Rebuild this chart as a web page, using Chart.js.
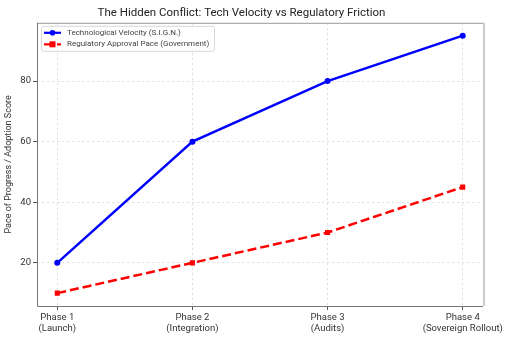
<!DOCTYPE html>
<html>
<head>
<meta charset="utf-8">
<script src="https://cdn.jsdelivr.net/npm/chart.js"></script>
<style>
	body { margin: 0; background: #fff; }
	canvas { display: block; }
</style>
</head>
<body>
<canvas id="chartc" width="512" height="341"></canvas>
<script>
// Data

var phases = [["Phase 1", "(Launch)"], ["Phase 2", "(Integration)"], ["Phase 3", "(Audits)"], ["Phase 4", "(Sovereign Rollout)"]];
var techValues = [20, 60, 80, 95];
var regValues = [10, 20, 30, 45];
var yTicks = [20, 40, 60, 80];

var fontFamily = "Roboto, 'DejaVu Sans', sans-serif";

// Legend inside the plot + frame, matplotlib style

var insideLegend = {
	id: 'insideLegend',
	afterDatasetsDraw: function(chart) {
		var ctx = chart.ctx;
		var a = chart.chartArea;
		var x = a.left + 4, y = a.top + 3, w = 173, h = 25;
		ctx.save();
		ctx.fillStyle = "rgba(255,255,255,0.85)";
		ctx.strokeStyle = "#d8d8d8";
		ctx.lineWidth = 1;
		ctx.beginPath();
		ctx.roundRect(x + 0.5, y + 0.5, w, h, 2);
		ctx.fill();
		ctx.stroke();
		chart.data.datasets.forEach(function(ds, i) {
			var cy = y + 7 + i * 11.5;
			ctx.strokeStyle = ds.borderColor;
			ctx.lineWidth = 2.2;
			ctx.setLineDash(ds.borderDash || []);
			ctx.beginPath();
			ctx.moveTo(x + 3, cy);
			ctx.lineTo(x + 20, cy);
			ctx.stroke();
			ctx.setLineDash([]);
			ctx.fillStyle = ds.borderColor;
			if (ds.pointStyle === 'rect') {
				ctx.fillRect(x + 11.5 - 3, cy - 3, 6, 6);
			} else {
				ctx.beginPath();
				ctx.arc(x + 11.5, cy, 2.8, 0, Math.PI * 2);
				ctx.fill();
			}
			ctx.fillStyle = "#444";
			ctx.font = "8px " + fontFamily;
			ctx.textBaseline = "middle";
			ctx.fillText(ds.label, x + 26, cy);
		});
		ctx.restore();
	},
	afterDraw: function(chart) {
		var ctx = chart.ctx;
		var a = chart.chartArea;
		ctx.save();
		ctx.lineWidth = 1;
		ctx.strokeStyle = "#999";
		ctx.beginPath();
		ctx.moveTo(a.left, a.top + 0.5);
		ctx.lineTo(a.right, a.top + 0.5);
		ctx.stroke();
		ctx.strokeStyle = "#777";
		ctx.beginPath();
		ctx.moveTo(a.left + 0.5, a.top);
		ctx.lineTo(a.left + 0.5, a.bottom + 0.5);
		ctx.lineTo(a.right, a.bottom + 0.5);
		ctx.stroke();
		ctx.strokeStyle = "#ccc";
		ctx.lineWidth = 2;
		ctx.beginPath();
		ctx.moveTo(a.right + 1, a.top);
		ctx.lineTo(a.right + 1, a.bottom);
		ctx.stroke();
		ctx.restore();
	}
};

new Chart("chartc", {
	type: "line",
	data: {
		datasets: [{
			label: "Technological Velocity (S.I.G.N.)",
			data: techValues.map(function(v, i) { return {x: i, y: v}; }),
			borderColor: "#0000ff",
			backgroundColor: "#0000ff",
			borderWidth: 2.5,
			pointStyle: 'circle',
			pointRadius: 3,
			pointBorderWidth: 0,
			pointHoverRadius: 3,
			tension: 0
		},
		{
			label: "Regulatory Approval Pace (Government)",
			data: regValues.map(function(v, i) { return {x: i, y: v}; }),
			borderColor: "#ff0000",
			backgroundColor: "#ff0000",
			borderWidth: 2.5,
			borderDash: [9, 4],
			pointStyle: 'rect',
			pointRadius: 3.6,
			pointBorderWidth: 0,
			pointHoverRadius: 3.6,
			tension: 0
		}]
	},
	options: {
		responsive: false,
		animation: false,
		layout: { padding: { left: 0, right: 29, top: 0, bottom: 0 } },
		plugins: {
			legend: { display: false },
			tooltip: { enabled: false },
			title: {
				display: true,
				text: "The Hidden Conflict: Tech Velocity vs Regulatory Friction",
				color: "#222",
				font: { family: fontFamily, size: 11.5, weight: 'normal' },
				padding: { top: 6, bottom: 3 }
			}
		},
		scales: {
			x: {
				type: "linear",
				min: -0.15,
				max: 3.15,
				afterBuildTicks: function(axis) {
					axis.ticks = phases.map(function(p, i) { return {value: i}; });
				},
				afterFit: function(axis) { axis.height = 35; },
				ticks: {
					autoSkip: false,
					maxRotation: 0,
					color: "#333",
					padding: 2,
					font: { family: fontFamily, size: 9.5 },
					callback: function(v) { return phases[v]; }
				},
				grid: {
					color: "#e2e2e2",
					tickColor: "#555",
					tickLength: 4
				},
				border: { display: false, dash: [2.5, 2.5] }
			},
			y: {
				min: 5.75,
				max: 99.25,
				afterBuildTicks: function(axis) {
					axis.ticks = yTicks.map(function(v) { return {value: v}; });
				},
				afterFit: function(axis) { axis.width = 37; },
				title: {
					display: true,
					text: "Pace of Progress / Adoption Score",
					color: "#333",
					font: { family: fontFamily, size: 9 },
					padding: { top: 3, bottom: 1 }
				},
				ticks: {
					color: "#333",
					padding: 2,
					font: { family: fontFamily, size: 9.5 }
				},
				grid: {
					color: "#e2e2e2",
					tickColor: "#555",
					tickLength: 4
				},
				border: { display: false, dash: [2.5, 2.5] }
			}
		}
	},
	plugins: [insideLegend]
});
</script>
</body>
</html>
